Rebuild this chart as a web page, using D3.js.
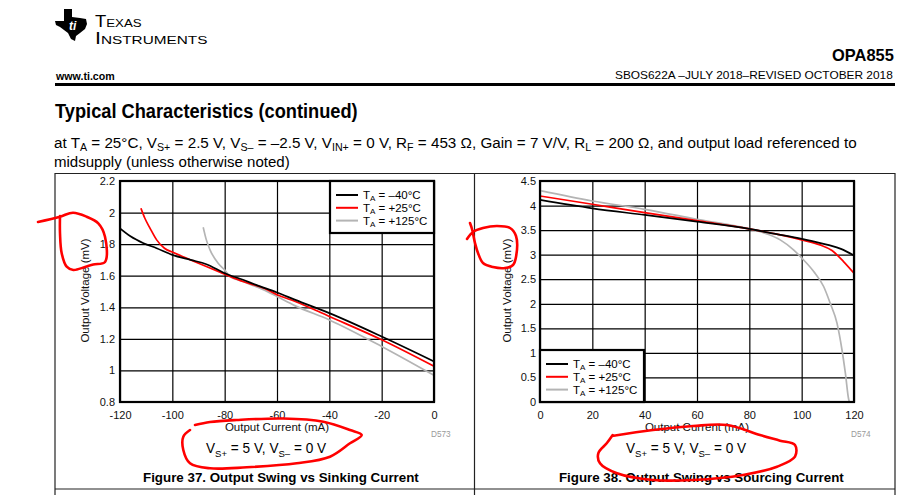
<!DOCTYPE html>
<html lang="en">
<head>
<meta charset="UTF-8">
<script src="https://d3js.org/d3.v7.min.js"></script>
<title>OPA855 Output Swing</title>
<style>
  body { margin: 0; background: #fff; }
  svg { display: block; font-family: "Liberation Sans", Arial, sans-serif; }
</style>
</head>
<body>
<svg id="page" width="910" height="495"></svg>
<script>

// tick values
var sinkTicksX = [-120, -100, -80, -60, -40, -20, 0];
var sinkTicksY = [0.8, 1, 1.2, 1.4, 1.6, 1.8, 2, 2.2];
var sourceTicksX = [0, 20, 40, 60, 80, 100, 120];
var sourceTicksY = [0, 0.5, 1, 1.5, 2, 2.5, 3, 3.5, 4, 4.5];

var tempLabels = ["\u201340\u00b0C", "+25\u00b0C", "+125\u00b0C"];

// Figure 37: sinking current (mA) vs output voltage
var sinkM40 = [[-120, 1.90], [-116, 1.85], [-111, 1.806], [-106, 1.774], [-100, 1.732], [-93, 1.70],
               [-87, 1.673], [-80, 1.616], [-73, 1.574], [-68, 1.542], [-60, 1.494], [-53, 1.447],
               [-40, 1.363], [-20, 1.215], [0, 1.057]];
var sink25 = [[-112, 2.027], [-110.5, 1.964], [-108.5, 1.90], [-106, 1.827], [-103, 1.774], [-99.6, 1.747],
              [-93, 1.70], [-87, 1.658], [-80, 1.61], [-73, 1.563], [-65, 1.521], [-60, 1.48],
              [-53, 1.437], [-40, 1.342], [-20, 1.194], [0, 1.026]];
var sink125 = [[-88.2, 1.907], [-87, 1.827], [-85.6, 1.764], [-82.5, 1.679], [-80, 1.637], [-78, 1.595],
               [-73, 1.563], [-65, 1.51], [-60, 1.468], [-53, 1.409], [-40, 1.32], [-20, 1.152], [0, 0.969]];

// Figure 38: sourcing current (mA) vs output voltage
var sourceM40 = [[0, 4.114], [20, 3.944], [40, 3.809], [60, 3.673], [80, 3.524], [90, 3.423],
                 [100, 3.321], [110, 3.199], [115, 3.118], [120, 2.982]];
var source25 = [[0, 4.195], [20, 4.026], [40, 3.856], [60, 3.694], [80, 3.524], [90, 3.423],
                [100, 3.301], [107, 3.199], [111.6, 3.084], [116, 2.86], [120, 2.623]];
var source125 = [[0, 4.303], [20, 4.093], [40, 3.924], [60, 3.721], [80, 3.524], [86.7, 3.423],
                 [91.8, 3.301], [96.9, 3.098], [100.1, 2.928], [104.6, 2.657], [108.4, 2.352],
                 [110.9, 2.013], [113.5, 1.606], [115.4, 1.064], [116.7, 0.589], [118, 0.047], [118.3, 0]];

var svg = d3.select("#page");
svg.append("rect").attr("width", 910).attr("height", 495).attr("fill", "#fff");

// squeeze a text element so it starts at `left` and spans `w` px
function fit(sel, left, w) {
  var bb = sel.node().getBBox();
  var s = w / bb.width;
  sel.attr("transform", "translate(" + left + ",0) scale(" + s + ",1) translate(" + (-bb.x) + ",0)");
  return sel;
}

// text with subscripts: segs = [[string, isSub], ...]
function rich(parent, x, y, segs, size, weight, shiftK) {
  var t = parent.append("text").attr("x", x).attr("y", y)
      .attr("font-size", size).attr("font-weight", weight || "normal").attr("fill", "#000");
  var down = false, shift = size * (shiftK || 0.3);
  segs.forEach(function(s) {
    var ts = t.append("tspan").text(s[0]);
    if (s[1]) {
      ts.attr("font-size", size * 0.7);
      if (!down) { ts.attr("dy", shift); down = true; }
    } else if (down) {
      ts.attr("dy", -shift); down = false;
    }
  });
  return t;
}

// ---------- page header ----------
var head = svg.append("g");
head.append("path")
    .attr("d", "M64,9 L72,9 L72,17 L80,18 L86,19 L87,24 L85,29 L80,33 L76,36 L75,41 L71,39 L68,33 L64,30 L60,27 L56,25 L55,21 L64,21 Z")
    .attr("fill", "#000");
head.append("text").attr("x", 69).attr("y", 30).attr("font-size", 12).attr("font-weight", "bold")
    .attr("font-style", "italic").attr("fill", "#fff").text("ti");

var tx = head.append("text").attr("x", 95).attr("y", 27.5).attr("fill", "#000");
tx.append("tspan").attr("font-size", 16).text("T");
tx.append("tspan").attr("font-size", 11.5).text("EXAS");
fit(tx, 95, 47);
var ins = head.append("text").attr("x", 95).attr("y", 44.5).attr("fill", "#000");
ins.append("tspan").attr("font-size", 16).text("I");
ins.append("tspan").attr("font-size", 11.5).text("NSTRUMENTS");
fit(ins, 95, 113);

fit(head.append("text").attr("x", 832).attr("y", 61).attr("font-size", 16).attr("font-weight", "bold")
    .text("OPA855"), 832, 62);
fit(head.append("text").attr("x", 55).attr("y", 80).attr("font-size", 11).attr("font-weight", "bold")
    .text("www.ti.com"), 55, 60);
fit(head.append("text").attr("x", 615).attr("y", 79).attr("font-size", 11)
    .text("SBOS622A \u2013JULY 2018\u2013REVISED OCTOBER 2018"), 615, 278);
head.append("line").attr("x1", 55).attr("x2", 895).attr("y1", 84.5).attr("y2", 84.5)
    .attr("stroke", "#000").attr("stroke-width", 3);

fit(head.append("text").attr("x", 55).attr("y", 118.5).attr("font-size", 21).attr("font-weight", "bold")
    .text("Typical Characteristics (continued)"), 55, 303);

var p1 = rich(head, 54, 148.5, [
  ["at T", 0], ["A", 1], [" = 25\u00b0C, V", 0], ["S+", 1], [" = 2.5 V, V", 0], ["S\u2013", 1],
  [" = \u20132.5 V, V", 0], ["IN+", 1], [" = 0 V, R", 0], ["F", 1], [" = 453 \u03a9, Gain = 7 V/V, R", 0],
  ["L", 1], [" = 200 \u03a9, and output load referenced to", 0]], 14.5, "normal", 0.17);
fit(p1, 54, 803);
fit(head.append("text").attr("x", 54).attr("y", 167.5).attr("font-size", 14.5)
    .text("midsupply (unless otherwise noted)"), 54, 236);

// ---------- table frame ----------
var frame = svg.append("g").attr("stroke", "#222").attr("stroke-width", 1.2);
frame.append("line").attr("x1", 55).attr("x2", 895).attr("y1", 173.5).attr("y2", 173.5);
frame.append("line").attr("x1", 55).attr("x2", 895).attr("y1", 489).attr("y2", 489);
[55, 474.5, 895].forEach(function(xx) {
  frame.append("line").attr("x1", xx).attr("x2", xx).attr("y1", 173).attr("y2", 495);
});

// ---------- charts ----------
var seriesColors = ["#000000", "#ff0000", "#b4b4b4"];

function drawChart(o) {
  var top = 181, bottom = 402;
  var x = d3.scaleLinear().domain(o.xDomain).range([o.left, o.right]);
  var y = d3.scaleLinear().domain(o.yDomain).range([bottom, top]);
  var g = svg.append("g");

  var ax = g.append("g").attr("transform", "translate(0," + bottom + ")")
      .call(d3.axisBottom(x).tickValues(o.xTicks).tickSize(-(bottom - top)).tickPadding(9)
            .tickFormat(function(d) { return String(d); }));
  var ay = g.append("g").attr("transform", "translate(" + o.left + ",0)")
      .call(d3.axisLeft(y).tickValues(o.yTicks).tickSize(-(o.right - o.left)).tickPadding(o.yPad)
            .tickFormat(function(d) { return String(d); }));
  [ax, ay].forEach(function(a) {
    a.select(".domain").remove();
    a.selectAll("line").attr("stroke", "#000").attr("stroke-width", 1.2);
    a.selectAll("text").attr("font-size", 11).attr("fill", "#111")
        .attr("font-family", "Liberation Sans, Arial, sans-serif");
  });

  var clipId = "clip" + o.id;
  g.append("clipPath").attr("id", clipId).append("rect")
      .attr("x", o.left).attr("y", top).attr("width", o.right - o.left).attr("height", bottom - top);

  var line = d3.line().x(function(d) { return x(d[0]); }).y(function(d) { return y(d[1]); })
      .curve(d3.curveMonotoneX);
  // draw gray first so black/red stay on top
  [2, 1, 0].forEach(function(i) {
    g.append("path").datum(o.series[i]).attr("clip-path", "url(#" + clipId + ")")
        .attr("d", line).attr("fill", "none").attr("stroke", seriesColors[i]).attr("stroke-width", 1.7);
  });

  g.append("rect").attr("x", o.left).attr("y", top).attr("width", o.right - o.left)
      .attr("height", bottom - top).attr("fill", "none").attr("stroke", "#000").attr("stroke-width", 2.2);

  // legend
  var lg = g.append("g");
  lg.append("rect").attr("x", o.legend.x).attr("y", o.legend.y).attr("width", 104).attr("height", 52)
      .attr("fill", "#fff").attr("stroke", "#000").attr("stroke-width", 2.2);
  tempLabels.forEach(function(lab, i) {
    var cy = o.legend.y + 14 + i * 12.8;
    lg.append("line").attr("x1", o.legend.x + 6).attr("x2", o.legend.x + 28).attr("y1", cy).attr("y2", cy)
        .attr("stroke", seriesColors[i]).attr("stroke-width", 2);
    rich(lg, o.legend.x + 33, cy + 4, [["T", 0], ["A", 1], [" = " + lab, 0]], 11.5, "normal", 0.2);
  });

  // axis titles
  g.append("text").attr("transform", "translate(" + o.yTitleX + ",290.5) rotate(-90)")
      .attr("text-anchor", "middle").attr("font-size", 11.5).attr("fill", "#111")
      .text("Output Voltage (mV)");
  g.append("text").attr("x", (o.left + o.right) / 2).attr("y", 431).attr("text-anchor", "middle")
      .attr("font-size", 11.5).attr("fill", "#111").text("Output Current (mA)");
  fit(g.append("text").attr("x", o.codeX).attr("y", 437).attr("font-size", 8.5).attr("fill", "#9a9a9a")
      .text(o.code), o.codeX, 20);

  var vs = rich(g, o.vsX, 453, [["V", 0], ["S+", 1], [" = 5 V, V", 0], ["S\u2013", 1], [" = 0 V", 0]], 14);
  fit(vs, o.vsX, 121);
  fit(g.append("text").attr("x", o.capX).attr("y", 482).attr("font-size", 12.5).attr("font-weight", "bold")
      .text(o.caption), o.capX, o.capW);
}

drawChart({
  id: 37, left: 120, right: 434, xDomain: [-120, 0], yDomain: [0.8, 2.2],
  xTicks: sinkTicksX, yTicks: sinkTicksY, yPad: 5, yTitleX: 89,
  series: [sinkM40, sink25, sink125], legend: { x: 330, y: 181 },
  code: "D573", codeX: 431, vsX: 206,
  caption: "Figure 37. Output Swing vs Sinking Current", capX: 143, capW: 277
});
drawChart({
  id: 38, left: 540, right: 854, xDomain: [0, 120], yDomain: [0, 4.5],
  xTicks: sourceTicksX, yTicks: sourceTicksY, yPad: 4, yTitleX: 511,
  series: [sourceM40, source25, source125], legend: { x: 540, y: 350 },
  code: "D574", codeX: 851, vsX: 626,
  caption: "Figure 38. Output Swing vs Sourcing Current", capX: 559, capW: 286
});

// ---------- hand-drawn red marks ----------
var marks = [
  [[38, 222], [60, 216.7], [73, 212.7], [86.7, 216.7], [98.3, 223.3], [105, 236.7], [105, 262],
   [93.3, 264.5], [85, 267], [73.3, 270], [66.7, 266.7], [61.7, 253.3], [60, 233.3], [60, 216]],
  [[195, 425], [210, 422], [236.7, 420], [283.3, 418.5], [323.3, 421.7], [350, 430], [361.7, 435],
   [350, 443.3], [330, 456.7], [296.7, 463.3], [246.7, 467.3], [210, 468.3], [190, 463.3],
   [183.3, 450], [183.3, 436.7], [190, 430]],
  [[467, 239], [473, 232], [483, 228], [497, 226], [510, 228], [516, 236], [516, 257], [513, 265],
   [505, 268], [493, 267], [483, 263], [478, 253], [475, 243], [472, 229], [470, 223]],
  [[612, 436], [653, 430], [693, 426], [727, 425], [760, 435], [780, 440.7], [795, 445], [795, 456.7],
   [777, 466.7], [743, 475], [693, 480], [653, 480], [617, 473.3], [600, 463.3], [598.3, 453.3],
   [606.7, 443.3], [612.7, 435]]
];
var pen = d3.line().curve(d3.curveCatmullRom.alpha(0.5));
svg.append("g").selectAll("path").data(marks).join("path")
    .attr("d", pen).attr("fill", "none").attr("stroke", "#ff0000").attr("stroke-width", 2.6)
    .attr("stroke-linecap", "round").attr("stroke-linejoin", "round");

</script>
</body>
</html>
